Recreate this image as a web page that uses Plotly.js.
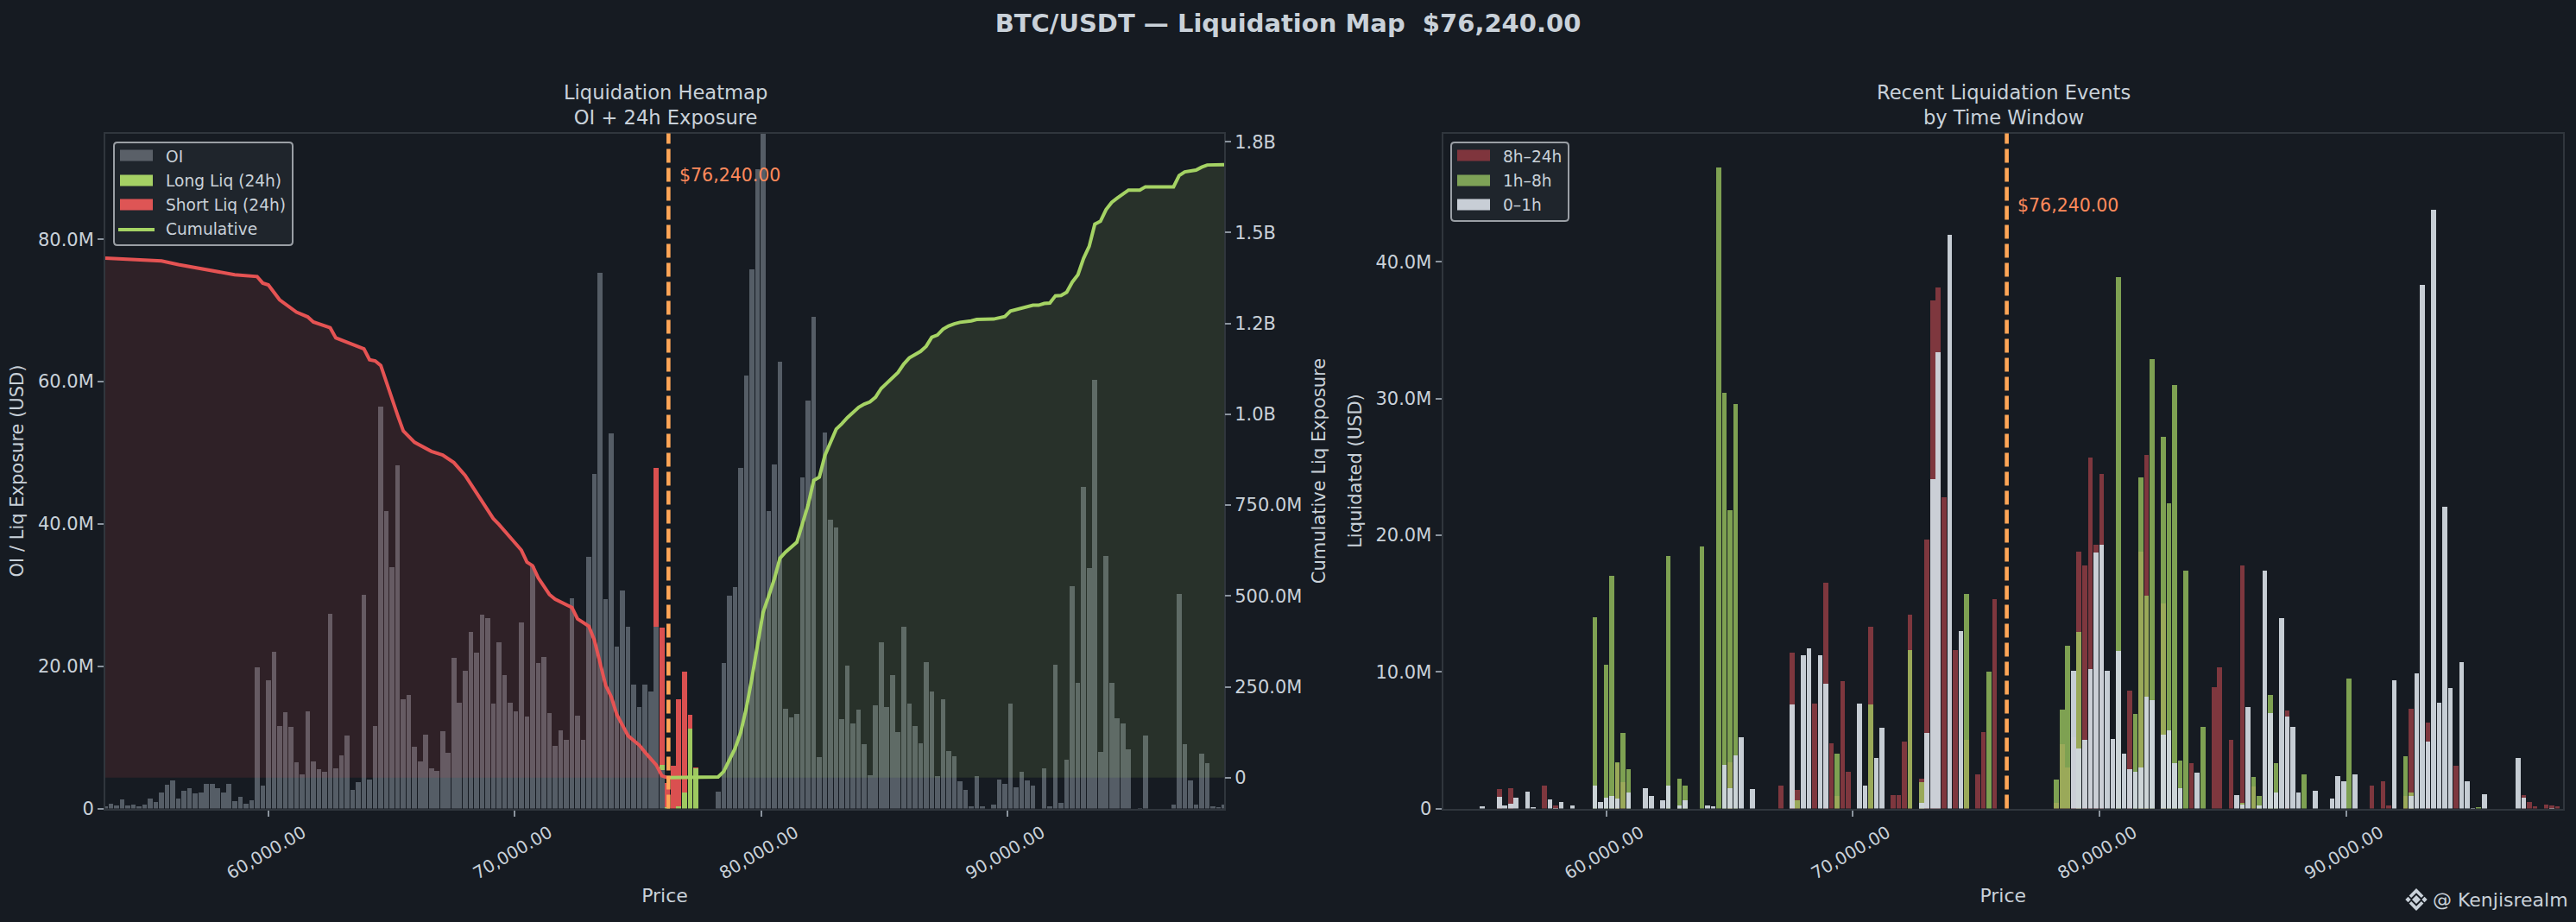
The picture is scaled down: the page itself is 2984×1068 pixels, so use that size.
<!DOCTYPE html>
<html><head><meta charset="utf-8">
<script src="https://cdn.plot.ly/plotly-3.0.1.min.js"></script>
<style>html,body{margin:0;padding:0;background:#161b22}</style>
</head><body><div id="chart" style="width:2984px;height:1068px"></div>
<script>
// ---------- data (USD millions) ----------
const currentPrice = 76240;
const priceLo = 53375, priceHi = 98800, binCount = 200;
const xTicks = [60000, 70000, 80000, 90000];

const oiValues = [
 .3,.7,.4,1.3,.4,.6,.25,.6,1.4,.9,
 2.3,3.3,4.0,1.4,2.5,2.9,2.1,2.3,3.5,3.5,
 2.8,2.3,3.5,1.0,1.6,.7,1.2,19.9,3.2,18.0,
 22,11.6,13.5,11.5,6.5,4.8,13.6,6.6,5.5,5.1,
 27.4,5.6,7.5,10.2,2.6,3.7,30,4.1,11.6,56.5,
 41.8,33.9,48.2,15.4,16,8.7,6.6,10.4,5.7,5.3,
 10.9,7.8,21.2,14.9,19.4,24.8,21.9,27.2,26.8,14.8,
 23.4,18.8,14.9,13.7,26.2,12.9,34,20.5,21.3,13.4,
 8.8,11,9.7,29.6,13.1,9.6,35.4,47,75.3,29.4,
 52.7,22.8,30.6,25.5,17.4,14.3,17.4,16.5,25.5,5.35,
 0,0,0,0,0,0,0,0,0,2.4,
 20.4,29.9,31.1,47.9,60.9,75.8,89.9,96,41.8,48.4,
 62.8,14,12.8,13.3,46.5,57.3,69.1,7.2,52.9,40.6,
 39.5,12.6,20.1,12,13.9,9,4.7,14.5,23.4,14.2,
 18.7,10.7,25.5,14.8,11.6,9.2,20.6,16.5,4.6,15.3,
 8.1,7.3,3.8,2.6,.25,4.5,.25,0,.6,4.1,
 3.4,14.7,3,5.2,3.9,3.2,0,5.6,.35,20.2,
 .85,6.9,31.2,17.7,45.2,33.8,60.3,7.9,35.5,17.6,
 12.7,11.9,8.3,0,.1,10.2,0,0,0,0,
 .5,30.1,9,3.9,.6,7.7,6.4,.25,.2,.5];

const liqBins   = [98, 99, 100, 101, 102, 103, 104, 105];
const longLiq   = [0, .73, .2, 0, .25, 2.3, 11.2, 5.6];
const shortLiq  = [22.4, 19.3, 3.4, 6, 15.1, 16.9, 2.0, .2];

const cumShortBins = [0,10,13,16,18,21,23,27,28,29,31,34,36,37,40,41,44,45,46,47,48,49,50,51,52,53,55,58,60,62,64,65,67,69,70,72,74,75,76,77,79,80,83,84,86,87,88,89,90,91,93,95,96,98,99,100];
const cumShortVals = [1430,1422,1412,1404,1399,1391,1384,1379,1361,1356,1315,1281,1268,1254,1238,1210,1191,1184,1180,1150,1147,1134,1088,1036,997,954,923,898,888,867,832,808,762,713,697,661,626,593,583,550,504,491,468,437,417,378,319,254,222,173,115,89,70,35,5,0];

const cumLongBins = [100,109,110,112,113,114,115,116,117,118,119,120,121,123,124,125,126,127,128,130,131,132,134,135,136,137,138,139,140,141,142,143,145,146,147,148,149,150,151,152,154,155,158,160,161,162,163,165,166,167,168,169,170,171,172,173,174,175,176,177,178,179,180,181,182,184,185,190,191,192,193,194,195,196,199];
const cumLongVals = [0,2,17,80,124,190,273,369,455,500,547,604,621,648,702,750,818,827,887,959,974,991,1019,1028,1034,1047,1071,1086,1102,1115,1138,1155,1173,1187,1212,1218,1234,1243,1249,1253,1257,1261,1262,1269,1284,1288,1294,1300,1300,1305,1306,1326,1327,1336,1364,1384,1429,1462,1523,1531,1563,1583,1595,1607,1617,1617,1626,1626,1657,1667,1670,1672,1680,1686,1687];

const w8hBins = [10,12,18,20,31,32,51,60,62,63,66,68,69,70,71,72,76,80,81,82,83,85,86,87,88,89,91,93,95,96,98,109,110,111,112,113,114,115,116,117,122,124,125,128,133,137,138,140,142,144,150,165,167,168,171,172,175,180,192,193,194,196,197,198];
const w8hVals = [1.45,1.5,1.7,.2,3.3,1.9,3.35,1.65,11.4,1.33,7.7,16.5,4.8,.9,9.3,2.7,13.3,1.0,.95,4.9,14.2,2.15,19.7,37.2,38.1,22.8,11.6,5.0,2.5,5.6,15.3,.4,4.7,3.0,5.2,18.8,17.8,25.7,19.3,24.5,8.6,18.8,25.9,15,3.3,8.9,10.3,5.0,17.8,1.6,7.2,1.65,2,.2,.9,7.3,6.3,3.1,.95,.5,.13,.3,.25,.13];

const w1hBins = [27,29,30,31,32,33,40,42,43,46,49,50,51,52,63,70,76,83,85,93,97,109,110,111,113,120,123,124,125,126,128,129,130,131,132,135,142,144,145,147,148,153,161,171,172,184];
const w1hVals = [14,10.5,17,3.4,5.5,2.9,18.5,2.15,1.7,19.2,46.9,30.4,21.8,29.6,.57,4.0,7.6,11.6,1.9,15.7,10,2.1,7.25,11.9,12.9,38.9,6.9,24.2,15.6,32.9,27.2,22.3,31,3.5,17.4,6,.38,2.3,.9,8.3,3.3,2.5,9.5,3.8,1.2,.1];

const w0hBins = [7,10,11,12,13,15,16,19,20,21,23,27,28,29,30,31,33,36,37,39,40,42,43,47,48,50,51,52,53,55,62,64,65,67,68,74,75,77,78,85,86,87,88,90,92,112,113,114,115,116,117,118,119,120,121,122,123,124,125,126,128,129,130,131,134,141,142,143,145,146,147,148,149,150,151,152,155,158,159,160,162,169,172,173,174,175,176,177,178,179,181,182,183,185,191,192,197];
const w0hVals = [.17,.87,.25,.35,.76,1.25,.07,.65,.05,.47,.22,1.65,.5,.76,.9,.7,1.15,1.5,.9,.57,1.7,.25,.63,.2,.13,3.16,1.5,3.9,5.2,1.45,7.6,11.2,11.7,11.2,9.1,7.7,1.7,3.67,5.9,.38,5.5,24.1,33.4,42,13,10.1,4.4,5,10.2,18.7,19.3,10.1,5.1,11.5,4,2.85,2.66,3,8.2,7.9,5.4,5.7,3.3,1.5,2.6,.95,.3,7.4,.25,17.4,7,1.2,13.9,6.7,6,1.15,1.27,.7,2.4,2,2.5,9.4,.9,9.9,38.3,4.9,43.8,7.75,22.1,8.8,10.7,2,.06,1.07,3.7,.82,.06];

const yLeftTicks  = [0,20,40,60,80];
const yLeftLabels = ['0','20.0M','40.0M','60.0M','80.0M'];
const y2Ticks  = [0,250,500,750,1000,1250,1500,1750];
const y2Labels = ['0','250.0M','500.0M','750.0M','1.0B','1.2B','1.5B','1.8B'];
const yRightTicks  = [0,10,20,30,40];
const yRightLabels = ['0','10.0M','20.0M','30.0M','40.0M'];

// ---------- helpers ----------
const W = 2984, H = 1068;
const FONT = '"DejaVu Sans", sans-serif';
const TXT = '#c9d1d9', BG = '#161b22', SPINE = '#30363d', TICK = '#8b949e';
const AX = {l:[122,1418], r:[1671.5,2969], top:154.5, bot:936.5};
const step = (priceHi - priceLo) / (binCount - 1);
const priceAt = i => priceLo + step * i;
const usd = v => v * 1e6;
const fx = p => p / W, fy = p => 1 - p / H;
const barW = step * 0.86;
const tickFont = {family:FONT, size:21, color:TXT};
const titleFont = {family:FONT, size:21, color:TXT};
const subFont = {family:FONT, size:22.6, color:TXT};
const longMap = Object.fromEntries(liqBins.map((b,i)=>[b,longLiq[i]]));

function roundedBox(x0,y0,x1,y1,r){
  return {type:'path', xref:'paper', yref:'paper', layer:'above',
    path:`M${fx(x0+r)},${fy(y0)} L${fx(x1-r)},${fy(y0)} Q${fx(x1)},${fy(y0)} ${fx(x1)},${fy(y0+r)} L${fx(x1)},${fy(y1-r)} Q${fx(x1)},${fy(y1)} ${fx(x1-r)},${fy(y1)} L${fx(x0+r)},${fy(y1)} Q${fx(x0)},${fy(y1)} ${fx(x0)},${fy(y1-r)} L${fx(x0)},${fy(y0+r)} Q${fx(x0)},${fy(y0)} ${fx(x0+r)},${fy(y0)} Z`,
    fillcolor:'#1f252c', line:{color:'#9a9fa5', width:2}};
}
function poly(pts){
  return {type:'path', xref:'paper', yref:'paper', layer:'above', fillcolor:TXT, line:{width:0},
    path:'M'+pts.map(p=>fx(p[0])+','+fy(p[1])).join(' L')+' Z'};
}
function swatch(x0,yc,color){
  return {type:'rect', xref:'paper', yref:'paper', layer:'above', x0:fx(x0), x1:fx(x0+38), y0:fy(yc-6.5), y1:fy(yc+6.5), fillcolor:color, line:{width:0}};
}
function proxy(name, color, group, legend){
  return {type:'scatter', mode:'lines', x:[null], y:[null], name, legend, legendgroup:group,
    line:{color, width:1}, xaxis: legend==='legend'?'x':'x2', yaxis: legend==='legend'?'y':'y3', hoverinfo:'skip'};
}

// ---------- traces ----------
const C = {oi:'rgba(139,148,158,0.55)', long:'rgba(165,211,100,0.95)', short:'rgba(229,83,83,0.95)',
  w8:'rgba(229,83,90,0.5)', w1:'rgba(165,211,100,0.73)', w0:'rgba(208,215,222,0.95)'};
const clear = 'rgba(0,0,0,0)';

const traces = [
  {type:'bar', x:oiValues.map((_,i)=>priceAt(i)), y:oiValues.map(usd), width:barW, marker:{color:C.oi,line:{width:0}}, showlegend:false, xaxis:'x', yaxis:'y', name:'OI'},
  {type:'bar', x:liqBins.map(priceAt), y:longLiq.map(usd), base:liqBins.map(b=>usd(oiValues[b])), width:barW, marker:{color:C.long,line:{width:0}}, showlegend:false, xaxis:'x', yaxis:'y', name:'Long Liq (24h)'},
  {type:'bar', x:liqBins.map(priceAt), y:shortLiq.map(usd), base:liqBins.map(b=>usd(oiValues[b]+longMap[b])), width:barW, marker:{color:C.short,line:{width:0}}, showlegend:false, xaxis:'x', yaxis:'y', name:'Short Liq (24h)'},
  {type:'scatter', mode:'lines', x:cumShortBins.map(priceAt), y:cumShortVals.map(usd), line:{color:'#e55353',width:4}, fill:'tozeroy', fillcolor:'rgba(229,83,83,0.12)', showlegend:false, xaxis:'x', yaxis:'y2', name:'Cumulative short'},
  {type:'scatter', mode:'lines', x:cumLongBins.map(priceAt), y:cumLongVals.map(usd), line:{color:'#a5d364',width:4}, fill:'tozeroy', fillcolor:'rgba(165,211,100,0.125)', showlegend:false, xaxis:'x', yaxis:'y2', name:'Cumulative'},
  proxy('OI',clear,'g1','legend'),
  proxy('Long Liq (24h)',clear,'g2','legend'),
  proxy('Short Liq (24h)',clear,'g3','legend'),
  proxy('Cumulative',clear,'g4','legend'),

  {type:'bar', x:w8hBins.map(priceAt), y:w8hVals.map(usd), width:barW, marker:{color:C.w8,line:{width:0}}, showlegend:false, xaxis:'x2', yaxis:'y3', name:'8h–24h'},
  {type:'bar', x:w1hBins.map(priceAt), y:w1hVals.map(usd), width:barW, marker:{color:C.w1,line:{width:0}}, showlegend:false, xaxis:'x2', yaxis:'y3', name:'1h–8h'},
  {type:'bar', x:w0hBins.map(priceAt), y:w0hVals.map(usd), width:barW, marker:{color:C.w0,line:{width:0}}, showlegend:false, xaxis:'x2', yaxis:'y3', name:'0–1h'},
  proxy('8h–24h',clear,'h1','legend2'),
  proxy('1h–8h',clear,'h2','legend2'),
  proxy('0–1h',clear,'h3','legend2')
];

// ---------- layout ----------
function xAxis(dom, anchor){
  return {domain:[fx(dom[0]),fx(dom[1])], anchor, range:[priceLo,priceHi], tickmode:'array',
    tickvals:xTicks, tickformat:',.2f', tickangle:-30, ticklabelshift:40, ticks:'outside', ticklen:7, tickwidth:2, tickcolor:TICK,
    tickfont:{family:FONT, size:20, color:TXT}, showgrid:false, zeroline:false, showline:true, mirror:true, linecolor:SPINE, linewidth:2,
    title:{text:'Price', font:{family:FONT,size:22,color:TXT}, standoff:7}};
}
function yAxis(extra){
  return Object.assign({domain:[fy(AX.bot),fy(AX.top)], tickmode:'array', ticks:'outside', ticklen:7, tickwidth:2, tickcolor:TICK,
    tickfont:tickFont, showgrid:false, zeroline:false, showline:true, mirror:true, linecolor:SPINE, linewidth:2}, extra);
}

const lgCommon = {xanchor:'left', yanchor:'top', bgcolor:'rgba(0,0,0,0)', borderwidth:0, itemwidth:30,
  font:{family:FONT,size:18.6,color:TXT}, traceorder:'grouped', tracegroupgap:1};

const ic = [2799,1042];
const icon = [
  [[0,-5],[5,0],[0,5],[-5,0]],
  [[-9.5,-3.2],[-6.3,0],[-9.5,3.2],[-12.7,0]],
  [[9.5,-3.2],[12.7,0],[9.5,3.2],[6.3,0]],
  [[0,-13],[8.4,-4.6],[5.8,-2],[0,-7.8],[-5.8,-2],[-8.4,-4.6]],
  [[0,13],[8.4,4.6],[5.8,2],[0,7.8],[-5.8,2],[-8.4,4.6]]
].map(p=>poly(p.map(q=>[q[0]+ic[0],q[1]+ic[1]])));

const legendRows = [180,209,237];

const layout = {
  width:W, height:H, paper_bgcolor:BG, plot_bgcolor:BG, barmode:'overlay', bargap:0, hovermode:false,
  margin:{l:0,r:0,t:0,b:0,autoexpand:false},
  title:{text:'BTC/USDT — Liquidation Map \u00a0$76,240.00', x:0.5, xanchor:'center', y:fy(27), yanchor:'middle',
    font:{family:FONT,size:29,color:TXT,weight:'bold'}},
  xaxis:xAxis(AX.l,'y'),
  yaxis:yAxis({anchor:'x', range:[0,usd(94.9)], tickvals:yLeftTicks.map(usd), ticktext:yLeftLabels,
    title:{text:'OI / Liq Exposure (USD)', font:titleFont, standoff:11}}),
  yaxis2:yAxis({overlaying:'y', anchor:'x', side:'right', range:[usd(-84.8),usd(1773)], tickvals:y2Ticks.map(usd), ticktext:y2Labels, showline:false, mirror:false,
    title:{text:'Cumulative Liq Exposure', font:titleFont, standoff:12}}),
  xaxis2:xAxis(AX.r,'y3'),
  yaxis3:yAxis({anchor:'x2', range:[0,usd(49.4)], tickvals:yRightTicks.map(usd), ticktext:yRightLabels,
    title:{text:'Liquidated (USD)', font:titleFont, standoff:10}}),
  legend:Object.assign({x:fx(152), y:fy(162)}, lgCommon),
  legend2:Object.assign({x:fx(1701), y:fy(162)}, lgCommon),
  shapes:[
    roundedBox(132,165,339,284,4),
    roundedBox(1681,165,1817,256,4),
    swatch(139,legendRows[0],'#5a6068'),
    swatch(139,legendRows[1],'#a5d064'),
    swatch(139,legendRows[2],'#de5555'),
    {type:'line', xref:'paper', yref:'paper', layer:'above', x0:fx(137), x1:fx(179), y0:fy(266), y1:fy(266), line:{color:'#a5d364',width:4}},
    swatch(1688,legendRows[0],'#7f353d'),
    swatch(1688,legendRows[1],'#7ea257'),
    swatch(1688,legendRows[2],'#c8ced6'),
    {type:'line', xref:'x', yref:'y domain', x0:currentPrice, x1:currentPrice, y0:0, y1:1, layer:'above', line:{color:'#ffa657',width:4.6,dash:'16px,6px'}},
    {type:'line', xref:'x2', yref:'y3 domain', x0:currentPrice, x1:currentPrice, y0:0, y1:1, layer:'above', line:{color:'#ffa657',width:4.6,dash:'16px,6px'}},
    ...icon
  ],
  annotations:[
    {xref:'paper',yref:'paper',x:fx(771),y:fy(121),text:'Liquidation Heatmap<br>OI + 24h Exposure',showarrow:false,font:subFont,xanchor:'center',yanchor:'middle'},
    {xref:'paper',yref:'paper',x:fx(2321),y:fy(121),text:'Recent Liquidation Events<br>by Time Window',showarrow:false,font:subFont,xanchor:'center',yanchor:'middle'},
    {xref:'paper',yref:'paper',x:fx(785),y:fy(203),text:'$'+currentPrice.toLocaleString('en-US',{minimumFractionDigits:2}),showarrow:false,font:{family:FONT,size:20.5,color:'#ff8a5c'},xanchor:'left',yanchor:'middle'},
    {xref:'paper',yref:'paper',x:fx(2335),y:fy(238),text:'$'+currentPrice.toLocaleString('en-US',{minimumFractionDigits:2}),showarrow:false,font:{family:FONT,size:20.5,color:'#ff8a5c'},xanchor:'left',yanchor:'middle'},
    {xref:'paper',yref:'paper',x:fx(2977),y:fy(1042),text:'@ Kenjisrealm',showarrow:false,font:{family:FONT,size:22,color:TXT},xanchor:'right',yanchor:'middle'}
  ]
};
Plotly.newPlot('chart', traces, layout, {displayModeBar:false, staticPlot:true});
</script></body></html>
